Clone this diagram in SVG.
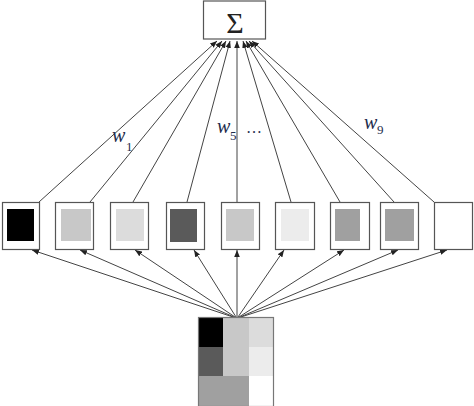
<svg xmlns="http://www.w3.org/2000/svg" width="474" height="406" viewBox="0 0 474 406">
<style>
.box{fill:#fff;stroke:#555;stroke-width:1.2}
.ln{stroke:#444;stroke-width:1;fill:none;marker-end:url(#ah)}
.lbl{font-family:"Liberation Serif",serif;font-style:italic;font-size:20px;fill:#1e2d4d}
.sub{font-family:"Liberation Serif",serif;font-size:13px;fill:#1e2d4d}
</style>
<defs>
<marker id="ah" viewBox="0 0 10 10" refX="10" refY="5" markerWidth="7" markerHeight="7" markerUnits="userSpaceOnUse" orient="auto">
<path d="M0,1 L10,5 L0,9 Z" fill="#222"/>
</marker>
</defs>
<g id="connectors">
<line class="ln" x1="39" y1="202" x2="217" y2="41"/>
<line class="ln" x1="90" y1="202" x2="222" y2="41"/>
<line class="ln" x1="133" y1="202" x2="226" y2="41"/>
<line class="ln" x1="187" y1="202" x2="230" y2="41"/>
<line class="ln" x1="237" y1="202" x2="237" y2="41"/>
<line class="ln" x1="291" y1="202" x2="243" y2="41"/>
<line class="ln" x1="340" y1="202" x2="246" y2="41"/>
<line class="ln" x1="394" y1="202" x2="249" y2="41"/>
<line class="ln" x1="434" y1="202" x2="252" y2="41"/>
<line class="ln" x1="233" y1="317" x2="32" y2="250"/>
<line class="ln" x1="234" y1="317" x2="80" y2="250"/>
<line class="ln" x1="235" y1="317" x2="135" y2="250"/>
<line class="ln" x1="236" y1="317" x2="194" y2="250"/>
<line class="ln" x1="237" y1="317" x2="237" y2="250"/>
<line class="ln" x1="238" y1="317" x2="284" y2="250"/>
<line class="ln" x1="239" y1="317" x2="344" y2="250"/>
<line class="ln" x1="240" y1="317" x2="398" y2="250"/>
<line class="ln" x1="241" y1="317" x2="447" y2="250"/>
</g>
<g id="sum">
<rect class="box" x="203.5" y="1" width="62" height="38"/>
<text x="235" y="33" text-anchor="middle" font-family="Liberation Serif,serif" font-size="30" fill="#222">Σ</text>
</g>
<g id="w1"><rect class="box" x="2.5" y="202.5" width="37" height="47"/><rect x="7" y="209" width="27" height="32" fill="#000"/></g>
<g id="w2"><rect class="box" x="55.5" y="202.5" width="38" height="47"/><rect x="61" y="209" width="30" height="32" fill="#c8c8c8"/></g>
<g id="w3"><rect class="box" x="110.5" y="202.5" width="38" height="47"/><rect x="116" y="209" width="28" height="32" fill="#dcdcdc"/></g>
<g id="w4"><rect class="box" x="166.5" y="202.5" width="38" height="47"/><rect x="170" y="209" width="27" height="33" fill="#5a5a5a"/></g>
<g id="w5"><rect class="box" x="221.5" y="202.5" width="38" height="47"/><rect x="226" y="209" width="28" height="32" fill="#c8c8c8"/></g>
<g id="w6"><rect class="box" x="275.5" y="202.5" width="39" height="47"/><rect x="281" y="209" width="28" height="32" fill="#ececec"/></g>
<g id="w7"><rect class="box" x="330.5" y="202.5" width="39" height="47"/><rect x="335" y="209" width="25" height="32" fill="#a0a0a0"/></g>
<g id="w8"><rect class="box" x="380.5" y="202.5" width="38" height="47"/><rect x="385" y="209" width="29" height="32" fill="#a0a0a0"/></g>
<g id="w9"><rect class="box" x="434.5" y="202.5" width="38" height="47"/></g>
<g id="image">
<rect x="198" y="317" width="25" height="30" fill="#000"/>
<rect x="223" y="317" width="26" height="59" fill="#c8c8c8"/>
<rect x="249" y="317" width="25" height="30" fill="#dcdcdc"/>
<rect x="198" y="347" width="25" height="29" fill="#5a5a5a"/>
<rect x="249" y="347" width="25" height="29" fill="#ececec"/>
<rect x="198" y="376" width="51" height="30" fill="#a0a0a0"/>
<rect x="249" y="376" width="25" height="30" fill="#fff"/>
<rect x="198.5" y="317.5" width="75" height="89" fill="none" stroke="#777" stroke-width="1.2"/>
</g>
<g id="labels">
<text class="lbl" x="112" y="142">w</text><text class="sub" x="126" y="151">1</text>
<text class="lbl" x="217" y="133">w</text><text class="sub" x="230" y="140">5</text>
<text x="254" y="133" text-anchor="middle" font-family="Liberation Serif,serif" font-size="16" fill="#1e2d4d">…</text>
<text class="lbl" x="364" y="129">w</text><text class="sub" x="377" y="134">9</text>
</g>
</svg>
